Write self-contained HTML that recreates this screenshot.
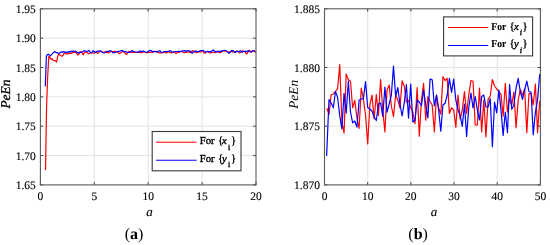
<!DOCTYPE html>
<html><head><meta charset="utf-8"><style>
html,body{margin:0;padding:0;background:#fff;}
svg{display:block;}
text{text-rendering:geometricPrecision;font-family:'Liberation Serif','Times New Roman',serif;fill:#000;stroke:#000;stroke-width:0.12px;}
.t{font-size:11.5px;}
.lg{font-size:10.7px;stroke-width:0.35px;}
.sub{font-size:7.5px;stroke-width:0.4px;}
.yl{font-size:13.4px;font-style:italic;}
.xl{font-size:13px;font-style:italic;}
.cap{font-size:16px;stroke-width:0;}
</style></head><body>
<svg width="550" height="245" viewBox="0 0 550 245">
<rect width="550" height="245" fill="#fff"/>
<line x1="94.30" y1="8.8" x2="94.30" y2="184.9" stroke="#e2e2e2" stroke-width="1.0"/>
<line x1="148.20" y1="8.8" x2="148.20" y2="184.9" stroke="#e2e2e2" stroke-width="1.0"/>
<line x1="202.10" y1="8.8" x2="202.10" y2="184.9" stroke="#e2e2e2" stroke-width="1.0"/>
<line x1="40.4" y1="155.55" x2="256.0" y2="155.55" stroke="#e2e2e2" stroke-width="1.0"/>
<line x1="40.4" y1="126.20" x2="256.0" y2="126.20" stroke="#e2e2e2" stroke-width="1.0"/>
<line x1="40.4" y1="96.85" x2="256.0" y2="96.85" stroke="#e2e2e2" stroke-width="1.0"/>
<line x1="40.4" y1="67.50" x2="256.0" y2="67.50" stroke="#e2e2e2" stroke-width="1.0"/>
<line x1="40.4" y1="38.15" x2="256.0" y2="38.15" stroke="#e2e2e2" stroke-width="1.0"/>
<polyline points="45.50,170.00 46.60,105.00 47.70,76.00 48.80,56.60 49.70,56.40 50.30,58.40 51.10,59.30 52.00,58.70 52.90,59.90 54.00,60.70 55.10,60.70 56.00,61.30 56.60,62.00 57.40,58.10 58.00,55.30 58.90,54.40 60.00,55.00 61.10,55.90 62.30,56.10 63.40,54.70 64.00,53.30 65.00,53.00 66.10,53.80 67.20,54.10 68.30,53.40 69.40,53.60 70.40,52.90 71.40,53.40 72.40,52.80 73.50,52.20 74.60,52.40 75.70,52.10 76.80,53.60 77.90,55.00 79.00,54.10 80.10,51.63 81.18,51.90 82.26,53.42 83.33,54.84 84.41,52.57 85.49,51.64 86.57,52.38 87.65,52.94 88.72,53.77 89.80,53.27 90.88,52.50 91.96,52.65 93.04,53.05 94.11,53.20 95.19,52.48 96.27,51.98 97.35,53.24 98.43,52.99 99.50,51.66 100.58,51.30 101.66,51.74 102.74,52.23 103.82,52.01 104.89,51.95 105.97,52.22 107.05,52.54 108.13,52.88 109.21,52.62 110.28,51.34 111.36,51.74 112.44,51.69 113.52,51.46 114.60,51.33 115.67,51.52 116.75,51.71 117.83,51.87 118.91,53.69 119.99,53.30 121.06,52.44 122.14,51.76 123.22,51.41 124.30,52.25 125.38,53.19 126.45,54.62 127.53,53.29 128.61,51.60 129.69,51.91 130.77,51.86 131.84,52.59 132.92,52.50 134.00,52.14 135.08,52.28 136.16,52.45 137.23,52.09 138.31,52.24 139.39,52.32 140.47,52.54 141.55,52.77 142.62,52.29 143.70,51.67 144.78,52.04 145.86,52.49 146.94,52.92 148.01,52.42 149.09,52.08 150.17,52.41 151.25,52.28 152.33,52.16 153.40,52.11 154.48,51.74 155.56,51.24 156.64,51.37 157.72,52.06 158.79,52.86 159.87,52.96 160.95,52.79 162.03,52.69 163.11,52.54 164.18,52.27 165.26,52.34 166.34,53.03 167.42,52.43 168.50,51.45 169.57,52.55 170.65,52.76 171.73,52.43 172.81,52.66 173.89,51.68 174.96,52.58 176.04,53.63 177.12,52.63 178.20,52.28 179.28,52.21 180.35,51.49 181.43,51.46 182.51,51.98 183.59,52.51 184.67,52.60 185.74,52.14 186.82,52.49 187.90,51.99 188.98,51.91 190.06,52.65 191.13,52.11 192.21,50.87 193.29,50.71 194.37,51.57 195.45,52.14 196.52,52.73 197.60,51.92 198.68,51.41 199.76,52.10 200.84,51.96 201.91,50.62 202.99,51.25 204.07,53.17 205.15,53.13 206.23,51.72 207.30,51.22 208.38,51.71 209.46,53.01 210.54,53.00 211.62,52.04 212.69,52.52 213.77,52.30 214.85,52.58 215.93,52.13 217.01,51.25 218.08,51.88 219.16,52.67 220.24,52.57 221.32,52.11 222.40,50.98 223.47,50.68 224.55,51.15 225.63,51.22 226.71,51.77 227.79,51.76 228.86,51.93 229.94,52.03 231.02,51.56 232.10,51.61 233.18,51.92 234.25,52.24 235.33,51.78 236.41,51.38 237.49,50.94 238.57,51.89 239.64,52.95 240.72,52.12 241.80,51.36 242.88,50.88 243.96,51.25 245.03,51.83 246.11,53.84 247.19,53.39 248.27,51.36 249.35,50.18 250.42,51.34 251.50,52.24 252.58,50.93 253.66,51.08 254.74,50.92 255.81,52.61" fill="none" stroke="#ff0000" stroke-width="1.2" stroke-linejoin="round"/>
<polyline points="45.30,86.50 46.40,55.90 47.40,54.70 48.90,54.40 49.70,55.30 50.60,55.60 52.00,54.10 53.40,52.70 54.60,51.60 55.40,51.90 56.30,52.70 57.40,52.70 58.60,53.60 59.70,53.00 60.90,51.90 62.30,52.10 63.70,51.60 64.90,52.10 66.00,52.60 67.00,51.90 68.20,52.30 69.20,51.60 70.20,52.00 71.20,51.20 72.20,51.60 73.10,51.00 74.10,51.50 75.20,51.00 76.30,51.60 77.20,52.30 78.20,53.20 79.20,52.40 80.30,52.29 81.38,52.45 82.46,51.92 83.53,50.79 84.61,50.96 85.69,51.05 86.77,51.48 87.85,51.05 88.92,50.61 90.00,51.98 91.08,52.93 92.16,51.84 93.24,50.66 94.31,51.59 95.39,52.45 96.47,51.63 97.55,51.09 98.63,51.19 99.70,50.97 100.78,51.01 101.86,52.04 102.94,52.49 104.02,52.88 105.09,52.43 106.17,51.64 107.25,51.24 108.33,51.31 109.41,51.09 110.48,50.46 111.56,51.38 112.64,52.59 113.72,52.59 114.80,52.59 115.87,52.29 116.95,51.47 118.03,51.47 119.11,51.56 120.19,51.06 121.26,50.54 122.34,50.42 123.42,51.14 124.50,51.74 125.58,51.52 126.65,52.13 127.73,52.26 128.81,51.98 129.89,52.40 130.97,51.73 132.04,50.49 133.12,51.27 134.20,51.61 135.28,51.97 136.36,52.26 137.43,52.20 138.51,52.33 139.59,50.99 140.67,51.20 141.75,51.59 142.82,51.05 143.90,51.15 144.98,51.80 146.06,52.28 147.14,52.37 148.21,51.24 149.29,50.75 150.37,50.34 151.45,50.70 152.53,51.82 153.60,51.47 154.68,51.42 155.76,51.77 156.84,52.11 157.92,51.58 158.99,50.92 160.07,50.94 161.15,52.07 162.23,52.68 163.31,51.90 164.38,51.62 165.46,51.69 166.54,51.68 167.62,51.53 168.70,51.33 169.77,50.87 170.85,50.81 171.93,52.03 173.01,52.37 174.09,51.75 175.16,51.46 176.24,51.48 177.32,51.70 178.40,51.36 179.48,51.37 180.55,51.69 181.63,51.27 182.71,50.89 183.79,50.78 184.87,50.67 185.94,51.51 187.02,50.78 188.10,50.53 189.18,51.12 190.26,50.99 191.33,52.68 192.41,53.20 193.49,51.92 194.57,51.44 195.65,51.15 196.72,51.19 197.80,51.82 198.88,51.62 199.96,50.81 201.04,50.49 202.11,50.51 203.19,50.44 204.27,51.43 205.35,52.00 206.43,51.46 207.50,51.99 208.58,51.67 209.66,51.53 210.74,52.05 211.82,51.03 212.89,50.18 213.97,50.45 215.05,51.48 216.13,52.31 217.21,51.34 218.28,51.43 219.36,51.61 220.44,51.09 221.52,51.01 222.60,51.05 223.67,50.48 224.75,50.29 225.83,50.48 226.91,51.15 227.99,52.48 229.06,53.33 230.14,52.21 231.22,50.49 232.30,50.57 233.38,50.80 234.45,51.90 235.53,52.32 236.61,51.24 237.69,51.50 238.77,51.92 239.84,50.82 240.92,50.89 242.00,52.34 243.08,51.62 244.16,51.40 245.23,51.23 246.31,51.29 247.39,51.13 248.47,50.72 249.55,51.66 250.62,52.02 251.70,51.63 252.78,50.77 253.86,50.66 254.94,51.60" fill="none" stroke="#0000ff" stroke-width="1.2" stroke-linejoin="round"/>
<line x1="40.40" y1="184.9" x2="40.40" y2="182.1" stroke="#404040" stroke-width="1"/>
<line x1="40.40" y1="8.8" x2="40.40" y2="11.600000000000001" stroke="#404040" stroke-width="1"/>
<line x1="94.30" y1="184.9" x2="94.30" y2="182.1" stroke="#404040" stroke-width="1"/>
<line x1="94.30" y1="8.8" x2="94.30" y2="11.600000000000001" stroke="#404040" stroke-width="1"/>
<line x1="148.20" y1="184.9" x2="148.20" y2="182.1" stroke="#404040" stroke-width="1"/>
<line x1="148.20" y1="8.8" x2="148.20" y2="11.600000000000001" stroke="#404040" stroke-width="1"/>
<line x1="202.10" y1="184.9" x2="202.10" y2="182.1" stroke="#404040" stroke-width="1"/>
<line x1="202.10" y1="8.8" x2="202.10" y2="11.600000000000001" stroke="#404040" stroke-width="1"/>
<line x1="256.00" y1="184.9" x2="256.00" y2="182.1" stroke="#404040" stroke-width="1"/>
<line x1="256.00" y1="8.8" x2="256.00" y2="11.600000000000001" stroke="#404040" stroke-width="1"/>
<line x1="40.4" y1="184.90" x2="43.199999999999996" y2="184.90" stroke="#404040" stroke-width="1"/>
<line x1="256.0" y1="184.90" x2="253.2" y2="184.90" stroke="#404040" stroke-width="1"/>
<line x1="40.4" y1="155.55" x2="43.199999999999996" y2="155.55" stroke="#404040" stroke-width="1"/>
<line x1="256.0" y1="155.55" x2="253.2" y2="155.55" stroke="#404040" stroke-width="1"/>
<line x1="40.4" y1="126.20" x2="43.199999999999996" y2="126.20" stroke="#404040" stroke-width="1"/>
<line x1="256.0" y1="126.20" x2="253.2" y2="126.20" stroke="#404040" stroke-width="1"/>
<line x1="40.4" y1="96.85" x2="43.199999999999996" y2="96.85" stroke="#404040" stroke-width="1"/>
<line x1="256.0" y1="96.85" x2="253.2" y2="96.85" stroke="#404040" stroke-width="1"/>
<line x1="40.4" y1="67.50" x2="43.199999999999996" y2="67.50" stroke="#404040" stroke-width="1"/>
<line x1="256.0" y1="67.50" x2="253.2" y2="67.50" stroke="#404040" stroke-width="1"/>
<line x1="40.4" y1="38.15" x2="43.199999999999996" y2="38.15" stroke="#404040" stroke-width="1"/>
<line x1="256.0" y1="38.15" x2="253.2" y2="38.15" stroke="#404040" stroke-width="1"/>
<line x1="40.4" y1="8.80" x2="43.199999999999996" y2="8.80" stroke="#404040" stroke-width="1"/>
<line x1="256.0" y1="8.80" x2="253.2" y2="8.80" stroke="#404040" stroke-width="1"/>
<rect x="40.4" y="8.8" width="215.60" height="176.10" fill="none" stroke="#5a5a5a" stroke-width="1.1"/>
<text x="35.80" y="188.90" text-anchor="end" class="t">1.65</text>
<text x="35.80" y="159.55" text-anchor="end" class="t">1.70</text>
<text x="35.80" y="130.20" text-anchor="end" class="t">1.75</text>
<text x="35.80" y="100.85" text-anchor="end" class="t">1.80</text>
<text x="35.80" y="71.50" text-anchor="end" class="t">1.85</text>
<text x="35.80" y="42.15" text-anchor="end" class="t">1.90</text>
<text x="35.80" y="12.80" text-anchor="end" class="t">1.95</text>
<text x="40.40" y="199.70" text-anchor="middle" class="t">0</text>
<text x="94.30" y="199.70" text-anchor="middle" class="t">5</text>
<text x="148.20" y="199.70" text-anchor="middle" class="t">10</text>
<text x="202.10" y="199.70" text-anchor="middle" class="t">15</text>
<text x="256.00" y="199.70" text-anchor="middle" class="t">20</text>
<line x1="367.68" y1="8.8" x2="367.68" y2="184.9" stroke="#e2e2e2" stroke-width="1.0"/>
<line x1="410.86" y1="8.8" x2="410.86" y2="184.9" stroke="#e2e2e2" stroke-width="1.0"/>
<line x1="454.04" y1="8.8" x2="454.04" y2="184.9" stroke="#e2e2e2" stroke-width="1.0"/>
<line x1="497.22" y1="8.8" x2="497.22" y2="184.9" stroke="#e2e2e2" stroke-width="1.0"/>
<line x1="324.5" y1="126.20" x2="540.4" y2="126.20" stroke="#e2e2e2" stroke-width="1.0"/>
<line x1="324.5" y1="67.50" x2="540.4" y2="67.50" stroke="#e2e2e2" stroke-width="1.0"/>
<polyline points="326.85,108.20 329.00,114.40 331.15,94.70 333.30,94.00 335.45,91.50 337.60,88.60 339.75,64.70 341.90,122.00 344.05,133.10 346.20,73.90 348.35,79.80 350.50,81.20 352.65,107.80 354.80,100.40 356.95,118.00 359.10,128.50 361.25,88.00 363.40,99.00 365.55,115.00 367.70,143.90 369.85,105.00 372.00,95.10 374.15,119.00 376.30,94.70 378.45,115.60 380.60,79.50 382.75,110.00 384.90,132.00 387.05,90.00 389.20,85.10 391.35,106.00 393.50,116.70 395.65,95.00 397.80,100.00 399.95,107.80 402.10,80.90 404.25,86.00 406.40,102.20 408.55,100.40 410.70,107.80 412.85,112.00 415.00,123.60 417.15,87.50 419.30,136.20 421.45,100.00 423.60,83.30 425.75,120.20 427.90,96.50 430.05,101.50 432.20,105.00 434.35,132.00 436.50,95.00 438.65,108.00 440.80,114.20 442.95,76.70 445.10,80.50 447.25,78.40 449.40,113.50 451.55,107.80 453.70,110.00 455.85,127.10 458.00,95.00 460.15,119.00 462.30,110.00 464.45,91.50 466.60,113.50 468.75,95.00 470.90,80.50 473.05,81.20 475.20,125.00 477.35,125.00 479.50,88.20 481.65,132.00 483.80,100.00 485.95,136.90 488.10,99.30 490.25,96.00 492.40,79.50 494.55,86.00 496.70,89.00 498.85,91.50 501.00,94.40 503.15,116.30 505.30,83.30 507.45,112.00 509.60,98.60 511.75,105.00 513.90,92.00 516.05,127.80 518.20,100.00 520.35,89.40 522.50,95.10 524.65,89.00 526.80,132.70 528.95,93.70 531.10,93.70 533.25,105.00 535.40,84.00 537.55,132.70 539.70,100.80" fill="none" stroke="#ff0000" stroke-width="1.2" stroke-linejoin="round"/>
<polyline points="326.60,156.00 329.00,99.70 331.15,103.00 333.30,107.80 335.45,91.50 337.60,97.20 339.75,116.00 341.90,128.90 344.05,93.30 346.20,113.20 348.35,81.20 350.50,112.00 352.65,122.90 354.80,121.00 356.95,127.10 359.10,100.00 361.25,99.00 363.40,98.60 365.55,81.50 367.70,107.50 369.85,109.00 372.00,111.00 374.15,117.00 376.30,120.50 378.45,104.00 380.60,103.00 382.75,116.30 384.90,87.10 387.05,112.10 389.20,104.00 391.35,95.00 393.50,66.10 395.65,96.50 397.80,87.50 399.95,104.00 402.10,116.00 404.25,103.00 406.40,84.70 408.55,118.10 410.70,84.00 412.85,122.00 415.00,120.00 417.15,100.00 419.30,102.00 421.45,105.70 423.60,90.00 425.75,105.00 427.90,117.80 430.05,79.10 432.20,79.80 434.35,106.00 436.50,95.00 438.65,110.00 440.80,131.30 442.95,105.00 445.10,103.20 447.25,95.00 449.40,78.40 451.55,92.30 453.70,79.10 455.85,100.00 458.00,110.00 460.15,115.60 462.30,126.40 464.45,104.00 466.60,136.50 468.75,108.00 470.90,93.00 473.05,108.00 475.20,96.50 477.35,110.00 479.50,120.00 481.65,96.50 483.80,95.10 485.95,107.00 488.10,107.00 490.25,98.60 492.40,146.70 494.55,102.20 496.70,112.80 498.85,90.10 501.00,110.00 503.15,135.50 505.30,112.00 507.45,132.70 509.60,84.70 511.75,109.30 513.90,105.00 516.05,88.00 518.20,78.40 520.35,92.00 522.50,99.30 524.65,90.00 526.80,81.20 528.95,91.50 531.10,92.30 533.25,134.80 535.40,112.00 537.55,100.00 539.70,74.00" fill="none" stroke="#0000ff" stroke-width="1.2" stroke-linejoin="round"/>
<line x1="324.50" y1="184.9" x2="324.50" y2="182.1" stroke="#404040" stroke-width="1"/>
<line x1="324.50" y1="8.8" x2="324.50" y2="11.600000000000001" stroke="#404040" stroke-width="1"/>
<line x1="367.68" y1="184.9" x2="367.68" y2="182.1" stroke="#404040" stroke-width="1"/>
<line x1="367.68" y1="8.8" x2="367.68" y2="11.600000000000001" stroke="#404040" stroke-width="1"/>
<line x1="410.86" y1="184.9" x2="410.86" y2="182.1" stroke="#404040" stroke-width="1"/>
<line x1="410.86" y1="8.8" x2="410.86" y2="11.600000000000001" stroke="#404040" stroke-width="1"/>
<line x1="454.04" y1="184.9" x2="454.04" y2="182.1" stroke="#404040" stroke-width="1"/>
<line x1="454.04" y1="8.8" x2="454.04" y2="11.600000000000001" stroke="#404040" stroke-width="1"/>
<line x1="497.22" y1="184.9" x2="497.22" y2="182.1" stroke="#404040" stroke-width="1"/>
<line x1="497.22" y1="8.8" x2="497.22" y2="11.600000000000001" stroke="#404040" stroke-width="1"/>
<line x1="540.40" y1="184.9" x2="540.40" y2="182.1" stroke="#404040" stroke-width="1"/>
<line x1="540.40" y1="8.8" x2="540.40" y2="11.600000000000001" stroke="#404040" stroke-width="1"/>
<line x1="324.5" y1="184.90" x2="327.3" y2="184.90" stroke="#404040" stroke-width="1"/>
<line x1="540.4" y1="184.90" x2="537.6" y2="184.90" stroke="#404040" stroke-width="1"/>
<line x1="324.5" y1="126.20" x2="327.3" y2="126.20" stroke="#404040" stroke-width="1"/>
<line x1="540.4" y1="126.20" x2="537.6" y2="126.20" stroke="#404040" stroke-width="1"/>
<line x1="324.5" y1="67.50" x2="327.3" y2="67.50" stroke="#404040" stroke-width="1"/>
<line x1="540.4" y1="67.50" x2="537.6" y2="67.50" stroke="#404040" stroke-width="1"/>
<line x1="324.5" y1="8.80" x2="327.3" y2="8.80" stroke="#404040" stroke-width="1"/>
<line x1="540.4" y1="8.80" x2="537.6" y2="8.80" stroke="#404040" stroke-width="1"/>
<rect x="324.5" y="8.8" width="215.90" height="176.10" fill="none" stroke="#5a5a5a" stroke-width="1.1"/>
<text x="319.90" y="188.90" text-anchor="end" class="t">1.870</text>
<text x="319.90" y="130.20" text-anchor="end" class="t">1.875</text>
<text x="319.90" y="71.50" text-anchor="end" class="t">1.880</text>
<text x="319.90" y="12.80" text-anchor="end" class="t">1.885</text>
<text x="324.50" y="199.70" text-anchor="middle" class="t">0</text>
<text x="367.68" y="199.70" text-anchor="middle" class="t">10</text>
<text x="410.86" y="199.70" text-anchor="middle" class="t">20</text>
<text x="454.04" y="199.70" text-anchor="middle" class="t">30</text>
<text x="497.22" y="199.70" text-anchor="middle" class="t">40</text>
<text x="540.40" y="199.70" text-anchor="middle" class="t">50</text>
<rect x="152.2" y="131.5" width="88.80" height="39.30" fill="#fff" stroke="#3a3a3a" stroke-width="1.1"/>
<line x1="156" y1="142.3" x2="196.6" y2="142.3" stroke="#ff0000" stroke-width="1.05"/>
<line x1="156" y1="160.2" x2="196.6" y2="160.2" stroke="#0000ff" stroke-width="1.05"/>
<text x="199.8" y="144.3" class="lg">For</text>
<text x="217.9" y="144.3" class="lg">{</text>
<text x="222.1" y="144.3" class="lg" font-style="italic">x</text>
<text x="227.9" y="149.60" class="sub" style="font-size:8.0px">i</text>
<text x="231.0" y="144.3" class="lg">}</text>
<text x="199.8" y="161.9" class="lg">For</text>
<text x="217.9" y="161.9" class="lg">{</text>
<text x="222.1" y="161.9" class="lg" font-style="italic">y</text>
<text x="227.9" y="167.20" class="sub" style="font-size:8.0px">i</text>
<text x="231.0" y="161.9" class="lg">}</text>
<rect x="443.6" y="16.9" width="89.00" height="39.00" fill="#fff" stroke="#3a3a3a" stroke-width="1.1"/>
<line x1="447.9" y1="27.5" x2="488.2" y2="27.5" stroke="#ff0000" stroke-width="1.05"/>
<line x1="447.9" y1="45.4" x2="488.2" y2="45.4" stroke="#0000ff" stroke-width="1.05"/>
<text transform="translate(491.3,29.6) scale(0.9,1)" class="lg" font-weight="bold" style="stroke-width:0.1px">For</text>
<text x="509.6" y="29.6" class="lg">{</text>
<text x="514.0" y="29.6" class="lg" font-style="italic">x</text>
<text x="519.8" y="35.20" class="sub" style="font-size:8.3px" font-style="italic">i</text>
<text x="522.5" y="29.6" class="lg">}</text>
<text transform="translate(491.3,47.1) scale(0.9,1)" class="lg" font-weight="bold" style="stroke-width:0.1px">For</text>
<text x="509.6" y="47.1" class="lg">{</text>
<text x="514.0" y="47.1" class="lg" font-style="italic">y</text>
<text x="519.8" y="52.70" class="sub" style="font-size:8.3px" font-style="italic">i</text>
<text x="522.5" y="47.1" class="lg">}</text>
<text transform="translate(10.4,94.1) rotate(-90)" text-anchor="middle" class="yl" style="stroke-width:0.3px">PeEn</text>
<text transform="translate(297.5,94.35) rotate(-90)" text-anchor="middle" class="yl" style="stroke-width:0">PeEn</text>
<text x="149.5" y="216" text-anchor="middle" class="xl">a</text>
<text x="434.1" y="216" text-anchor="middle" class="xl">a</text>
<text x="134" y="238.6" text-anchor="middle" class="cap">(<tspan font-weight="bold">a</tspan>)</text>
<text x="418.1" y="238.6" text-anchor="middle" class="cap">(<tspan font-weight="bold">b</tspan>)</text>
</svg>
</body></html>
